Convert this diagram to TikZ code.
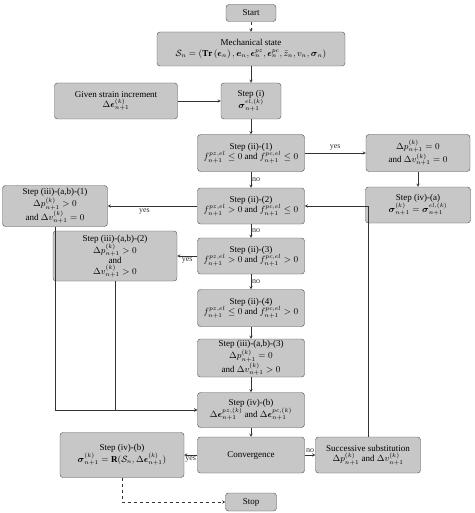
\documentclass[tikz,border=0pt]{standalone}
\usepackage{amsmath}
\usepackage{fontspec}
\setmainfont{Liberation Serif}
\usepackage{tikz}
\usetikzlibrary{arrows}
\tikzstyle{startstop} = [
    rectangle,
    rounded corners=3pt,
    minimum width=50pt,
    minimum height=17pt,
    draw=black!70,
    fill=black!22,
    font=\fontsize{9}{10.5}\selectfont
]
\tikzstyle{stepbox} = [
    rectangle,
    rounded corners=3pt,
    minimum width=107pt,
    minimum height=36pt,
    align=center,
    inner sep=1pt,
    draw=black!70,
    fill=black!22,
    font=\fontsize{9}{10.5}\selectfont
]
\tikzstyle{arrow} = [black!80,->,>=stealth]
\tikzstyle{dasharrow} = [black!80,dashed,->,>=stealth]
\tikzstyle{answer} = [font=\fontsize{8}{9}\selectfont, inner sep=1pt]

\begin{document}
\begin{tikzpicture}[node distance=52pt]

\useasboundingbox (0,0) rectangle (474pt,-513pt);

\node (start) [startstop] at (251pt,-13pt) {Start};

\node (mech) [stepbox, below of=start, node distance=36pt, minimum width=188pt, minimum height=34pt]
{Mechanical state\\
$\mathcal{S}_n=\left(\mathbf{Tr}\left(\boldsymbol{\epsilon}_n\right),\boldsymbol{e}_n,\boldsymbol{\epsilon}^{pz}_n,\boldsymbol{\epsilon}^{pc}_n,\bar{z}_n,v_n,\boldsymbol{\sigma}_n\right)$};

\node (stepi) [stepbox, below of=mech, minimum width=60pt]
{Step (i)\\ $\boldsymbol{\sigma}^{el,(k)}_{n+1}$};

\node (given) [stepbox, left of=stepi, node distance=135pt, minimum width=123pt]
{Given strain increment\\ $\Delta\boldsymbol{\epsilon}^{(k)}_{n+1}$};

\node (ii1) [stepbox, below of=stepi, minimum height=37pt]
{Step (ii)-(1)\\ $f^{pz,el}_{n+1}\le 0$ and $f^{pc,el}_{n+1}\le 0$};

\node (dpzero) [stepbox, right of=ii1, node distance=167pt, minimum width=104pt, minimum height=37pt]
{$\Delta p^{(k)}_{n+1}=0$\\ and $\Delta v^{(k)}_{n+1}=0$};

\node (ii2) [stepbox, below of=ii1, node distance=53pt]
{Step (ii)-(2)\\ $f^{pz,el}_{n+1}>0$ and $f^{pc,el}_{n+1}\le 0$};

\node (iva) [stepbox, below of=dpzero, node distance=52pt, minimum width=105pt]
{Step (iv)-(a)\\ $\boldsymbol{\sigma}^{(k)}_{n+1}=\boldsymbol{\sigma}^{el,(k)}_{n+1}$};

\node (iii1) [stepbox, left of=ii2, node distance=196pt, minimum width=105pt, minimum height=41pt]
{Step (iii)-(a,b)-(1)\\ $\Delta p^{(k)}_{n+1}>0$\\ and $\Delta v^{(k)}_{n+1}=0$};

\node (ii3) [stepbox, below of=ii2, node distance=50pt]
{Step (ii)-(3)\\ $f^{pz,el}_{n+1}>0$ and $f^{pc,el}_{n+1}>0$};

\node (iii2) [stepbox, left of=ii3, node distance=136pt, minimum width=124pt, minimum height=50pt]
{Step (iii)-(a,b)-(2)\\ $\Delta p^{(k)}_{n+1}>0$\\ and\\ $\Delta v^{(k)}_{n+1}>0$};

\node (ii4) [stepbox, below of=ii3, node distance=52pt, minimum height=37pt]
{Step (ii)-(4)\\ $f^{pz,el}_{n+1}\le 0$ and $f^{pc,el}_{n+1}>0$};

\node (iii3) [stepbox, below of=ii4, node distance=50pt, minimum height=38pt]
{Step (iii)-(a,b)-(3)\\ $\Delta p^{(k)}_{n+1}=0$\\ and $\Delta v^{(k)}_{n+1}>0$};

\node (ivb) [stepbox, below of=iii3, node distance=52pt, minimum height=35pt]
{Step (iv)-(b)\\ $\Delta\boldsymbol{\epsilon}^{pz,(k)}_{n+1}$ and $\Delta\boldsymbol{\epsilon}^{pc,(k)}_{n+1}$};

\node (conv) [stepbox, below of=ivb, node distance=45pt]
{Convergence};

\node (subst) [stepbox, right of=conv, node distance=117pt, minimum width=105pt]
{Successive substitution\\ $\Delta p^{(k)}_{n+1}$ and $\Delta v^{(k)}_{n+1}$};

\node (result) [stepbox, left of=conv, node distance=129pt, minimum width=124pt, minimum height=45pt]
{Step (iv)-(b)\\ $\boldsymbol{\sigma}^{(k)}_{n+1}=\mathbf{R}(\mathcal{S}_n,\Delta\boldsymbol{\epsilon}^{(k)}_{n+1})$};

\node (stop) [startstop, below of=conv, node distance=47pt, minimum width=51pt, minimum height=18pt]
{Stop};

\draw [dasharrow] (start) -- (mech);
\draw [arrow] (mech) -- (stepi);
\draw [arrow] (given) -- (stepi);
\draw [arrow] (stepi) -- (ii1);
\draw [arrow] (ii1) -- node [answer, above=2pt] {yes} (dpzero);
\draw [arrow] (ii1) -- node [answer, right] {no} (ii2);
\draw [arrow] (dpzero) -- (iva);
\draw [arrow] (ii2) -- node [answer, below=2pt, xshift=-8pt] {yes} (iii1);
\draw [arrow] (ii2) -- node [answer, right] {no} (ii3);
\draw [arrow] (ii3) -- node [answer, below=1pt] {yes} (iii2);
\draw [arrow] (ii3) -- node [answer, right] {no} (ii4);
\draw [arrow] (ii4) -- (iii3);
\draw [arrow] (iii3) -- (ivb);
\draw [arrow] (iii1.south) |- (ivb.west);
\draw [arrow] (iii2.south) |- (ivb.west);
\draw [arrow] (ivb) -- (conv);
\draw [arrow] (conv) -- node [answer, below=1pt] {yes} (result);
\draw [arrow] (conv) -- node [answer, above=1pt] {no} (subst);
\draw [arrow] (subst.north) |- (ii2.east);
\draw [dasharrow] (result.south) |- (stop.west);

\end{tikzpicture}
\end{document}
